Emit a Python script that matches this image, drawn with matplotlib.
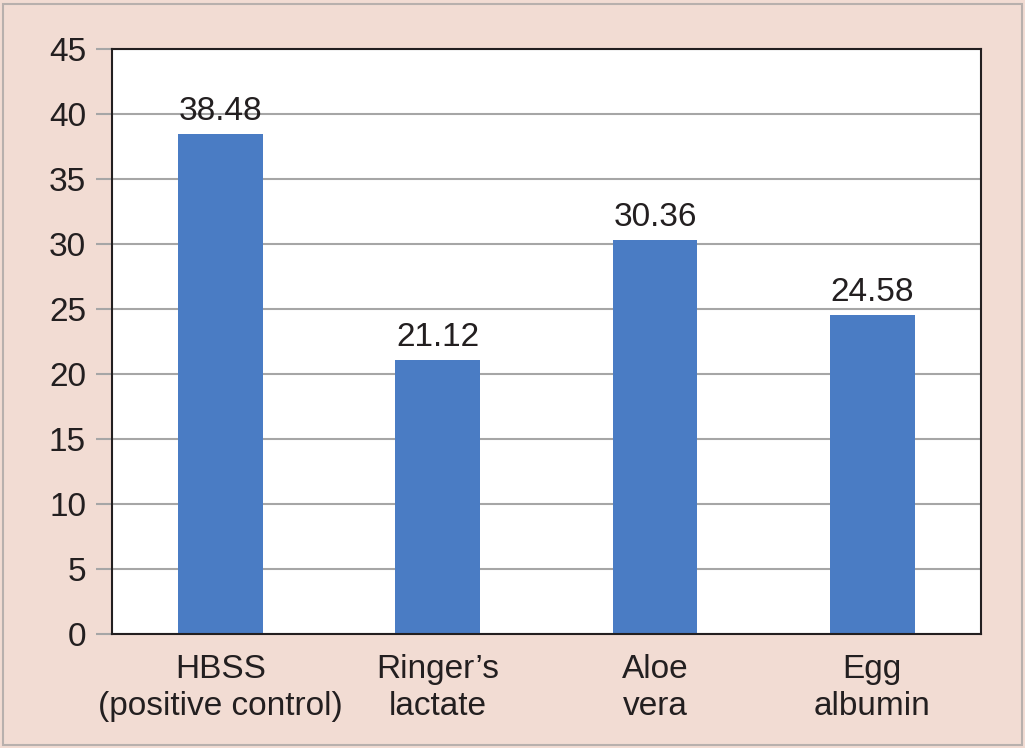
import matplotlib.pyplot as plt
from matplotlib.patches import Rectangle

# data
groups = ["HBSS\n(positive control)", "Ringer\u2019s\nlactate", "Aloe\nvera", "Egg\nalbumin"]
values = [38.48, 21.12, 30.36, 24.58]
yticks = [0, 5, 10, 15, 20, 25, 30, 35, 40, 45]

plt.rcParams['font.family'] = ['Liberation Sans', 'DejaVu Sans']

fig = plt.figure(figsize=(10.25, 7.48), dpi=100)
fig.patch.set_facecolor('#f2dcd3')
# thin gray frame around the panel
fig.patches.append(Rectangle((0.003, 0.004), 0.994, 0.99, transform=fig.transFigure,
                             fill=False, edgecolor='#b8b0ad', linewidth=1.5))

ax = fig.add_axes([0.109, 0.152, 0.848, 0.782])
ax.set_facecolor('white')

x = list(range(len(groups)))
ax.set_axisbelow(True)
ax.yaxis.grid(True, color='#a6a6a6', linewidth=1.5)
ax.bar(x, values, width=0.39, color='#4a7cc4', zorder=2)

for xi, v in zip(x, values):
    ax.text(xi, v + 0.55, f"{v:.2f}", ha='center', va='bottom', fontsize=24, color='#231f20')

ax.set_xlim(-0.5, 3.5)
ax.set_ylim(0, 45)
ax.set_yticks(yticks)
ax.set_xticks(x)
ax.set_xticklabels(groups, fontsize=24, color='#231f20', linespacing=1.27)
ax.tick_params(axis='x', length=0, pad=14)
ax.tick_params(axis='y', length=11.5, width=1.5, color='#a6a6a6', labelsize=24,
               labelcolor='#231f20', pad=7)
ticks = ax.yaxis.get_major_ticks()
ticks[0].tick1line.set_color('#231f20')
ticks[-1].tick1line.set_color('#231f20')

for s in ax.spines.values():
    s.set_color('#231f20')
    s.set_linewidth(1.5)

fig.savefig('out.png', dpi=100, facecolor=fig.get_facecolor())
